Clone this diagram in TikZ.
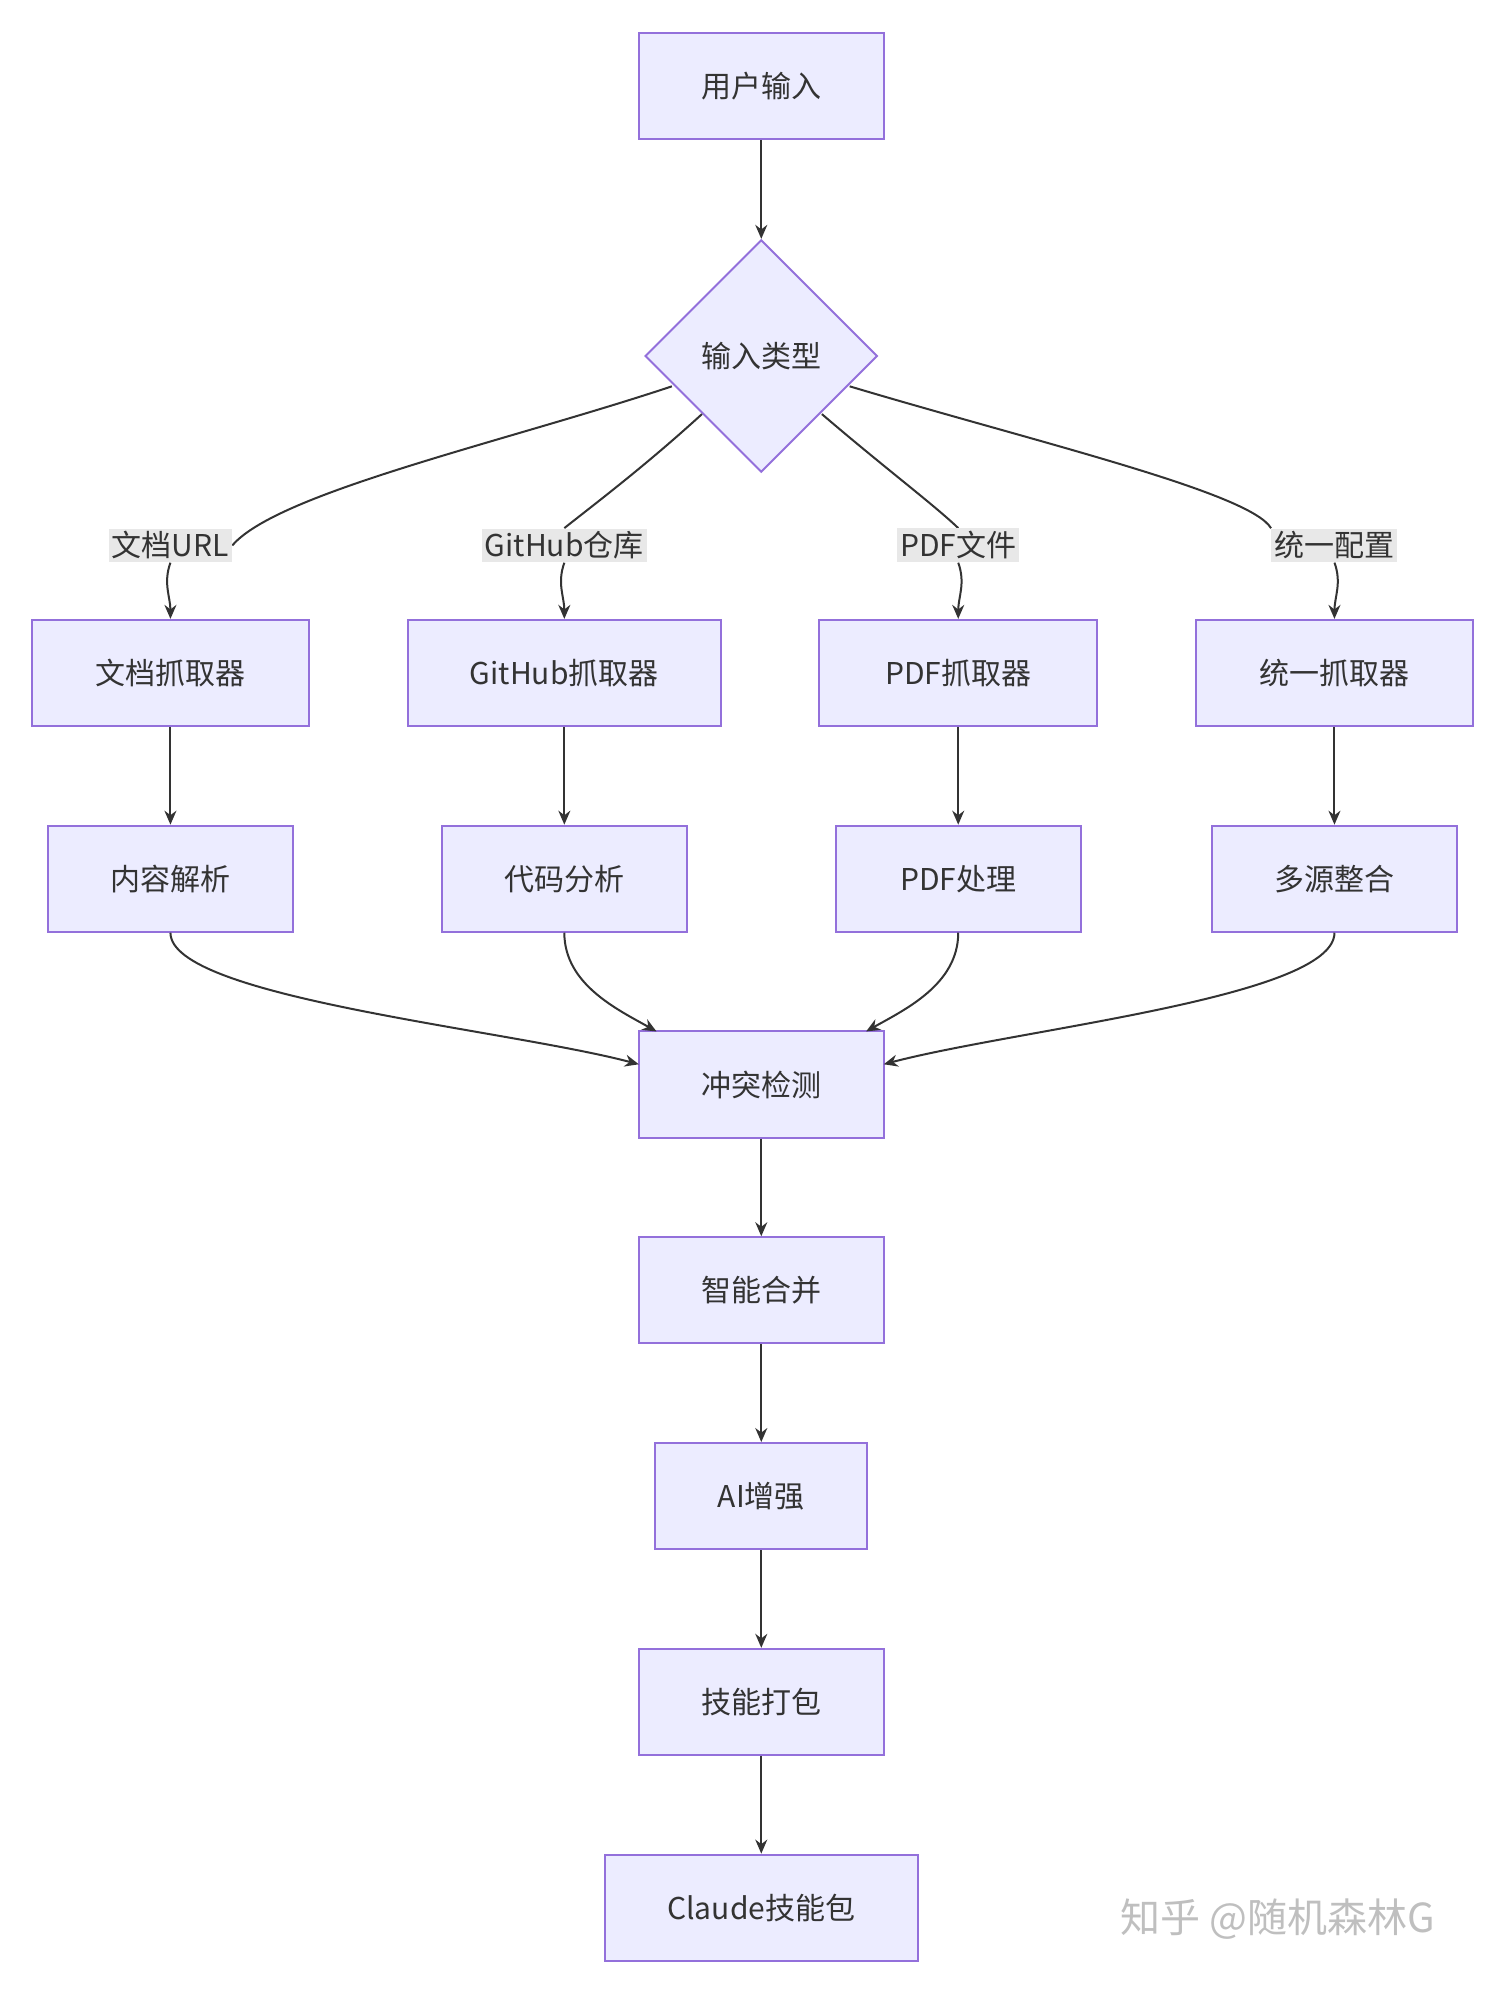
\documentclass[tikz,border=0pt]{standalone}
\usepackage{fontspec}
\setmainfont{Noto Sans CJK SC}
\usetikzlibrary{shapes.geometric,arrows.meta}
\definecolor{nfill}{HTML}{ECECFF}
\definecolor{nbord}{HTML}{9370DB}
\definecolor{ln}{HTML}{333333}
\begin{document}
\begin{tikzpicture}[x=0.631pt,y=-0.631pt,
  box/.style={draw=nbord,fill=nfill,line width=1pt,minimum height=84*0.631pt,inner sep=0pt,font=\fontsize{15}{18}\selectfont,text=ln},
  lab/.style={fill=black!9,inner sep=1.5pt,font=\fontsize{15}{18}\selectfont,text=ln},
  ar/.style={draw=ln,line width=1pt,-{Stealth[length=7pt,width=6pt]}},
  ln/.style={draw=ln,line width=1pt}]
\useasboundingbox (0,0) rectangle (1190,1581);
\node[box,minimum width=194*0.631pt] (a) at (603,68) {用户输入};
\node[diamond,draw=nbord,fill=nfill,line width=1pt,minimum width=184*0.631pt,minimum height=184*0.631pt,inner sep=0pt,font=\fontsize{15}{18}\selectfont,text=ln] (d) at (603,282) {输入类型};
\node[lab] (l1) at (135,432) {文档URL};
\node[lab] (l2) at (447,432) {GitHub仓库};
\node[lab] (l3) at (759,432) {PDF文件};
\node[lab] (l4) at (1057,432) {统一配置};
\node[box,minimum width=220*0.631pt] (b1) at (135,533) {文档抓取器};
\node[box,minimum width=248*0.631pt] (b2) at (447,533) {GitHub抓取器};
\node[box,minimum width=220*0.631pt] (b3) at (759,533) {PDF抓取器};
\node[box,minimum width=220*0.631pt] (b4) at (1057,533) {统一抓取器};
\node[box,minimum width=194*0.631pt] (c1) at (135,696) {内容解析};
\node[box,minimum width=194*0.631pt] (c2) at (447,696) {代码分析};
\node[box,minimum width=194*0.631pt] (c3) at (759,696) {PDF处理};
\node[box,minimum width=194*0.631pt] (c4) at (1057,696) {多源整合};
\node[box,minimum width=194*0.631pt] (e) at (603,859) {冲突检测};
\node[box,minimum width=194*0.631pt] (f) at (603,1022) {智能合并};
\node[box,minimum width=168*0.631pt] (g) at (603,1185) {AI增强};
\node[box,minimum width=194*0.631pt] (h) at (603,1348) {技能打包};
\node[box,minimum width=248*0.631pt] (i) at (603,1511) {Claude技能包};
\node[text=black!25,font=\fontsize{20}{24}\selectfont] (w) at (1012,1520) {知乎 @随机森林G};
\draw[ar] (a) -- (d);
\begin{scope}[on background layer/.style={}]
\draw[ln] (d.west) ++(22,24) .. controls (400,350) and (220,390) .. (l1.east);
\draw[ln] (556,328) .. controls (510,370) and (470,400) .. (l2.north);
\draw[ln] (651,328) .. controls (700,370) and (740,400) .. (l3.north);
\draw[ln] (673,306) .. controls (820,350) and (990,390) .. (l4.north west);
\end{scope}
\node[lab] at (135,432) {文档URL};
\node[lab] at (447,432) {GitHub仓库};
\node[lab] at (759,432) {PDF文件};
\node[lab] at (1057,432) {统一配置};
\draw[ar] (l1.south) to[out=-110,in=90] (b1.north);
\draw[ar] (l2.south) to[out=-110,in=90] (b2.north);
\draw[ar] (l3.south) to[out=-70,in=90] (b3.north);
\draw[ar] (l4.south) to[out=-70,in=90] (b4.north);
\draw[ar] (b1) -- (c1);
\draw[ar] (b2) -- (c2);
\draw[ar] (b3) -- (c3);
\draw[ar] (b4) -- (c4);
\draw[ar] (c1.south) .. controls (135,790) and (400,815) .. (506,843);
\draw[ar] (c2.south) .. controls (447,780) and (490,800) .. (520,817);
\draw[ar] (c3.south) .. controls (759,780) and (716,800) .. (686,817);
\draw[ar] (c4.south) .. controls (1057,790) and (806,815) .. (700,843);
\draw[ar] (e) -- (f);
\draw[ar] (f) -- (g);
\draw[ar] (g) -- (h);
\draw[ar] (h) -- (i);
\end{tikzpicture}
\end{document}
